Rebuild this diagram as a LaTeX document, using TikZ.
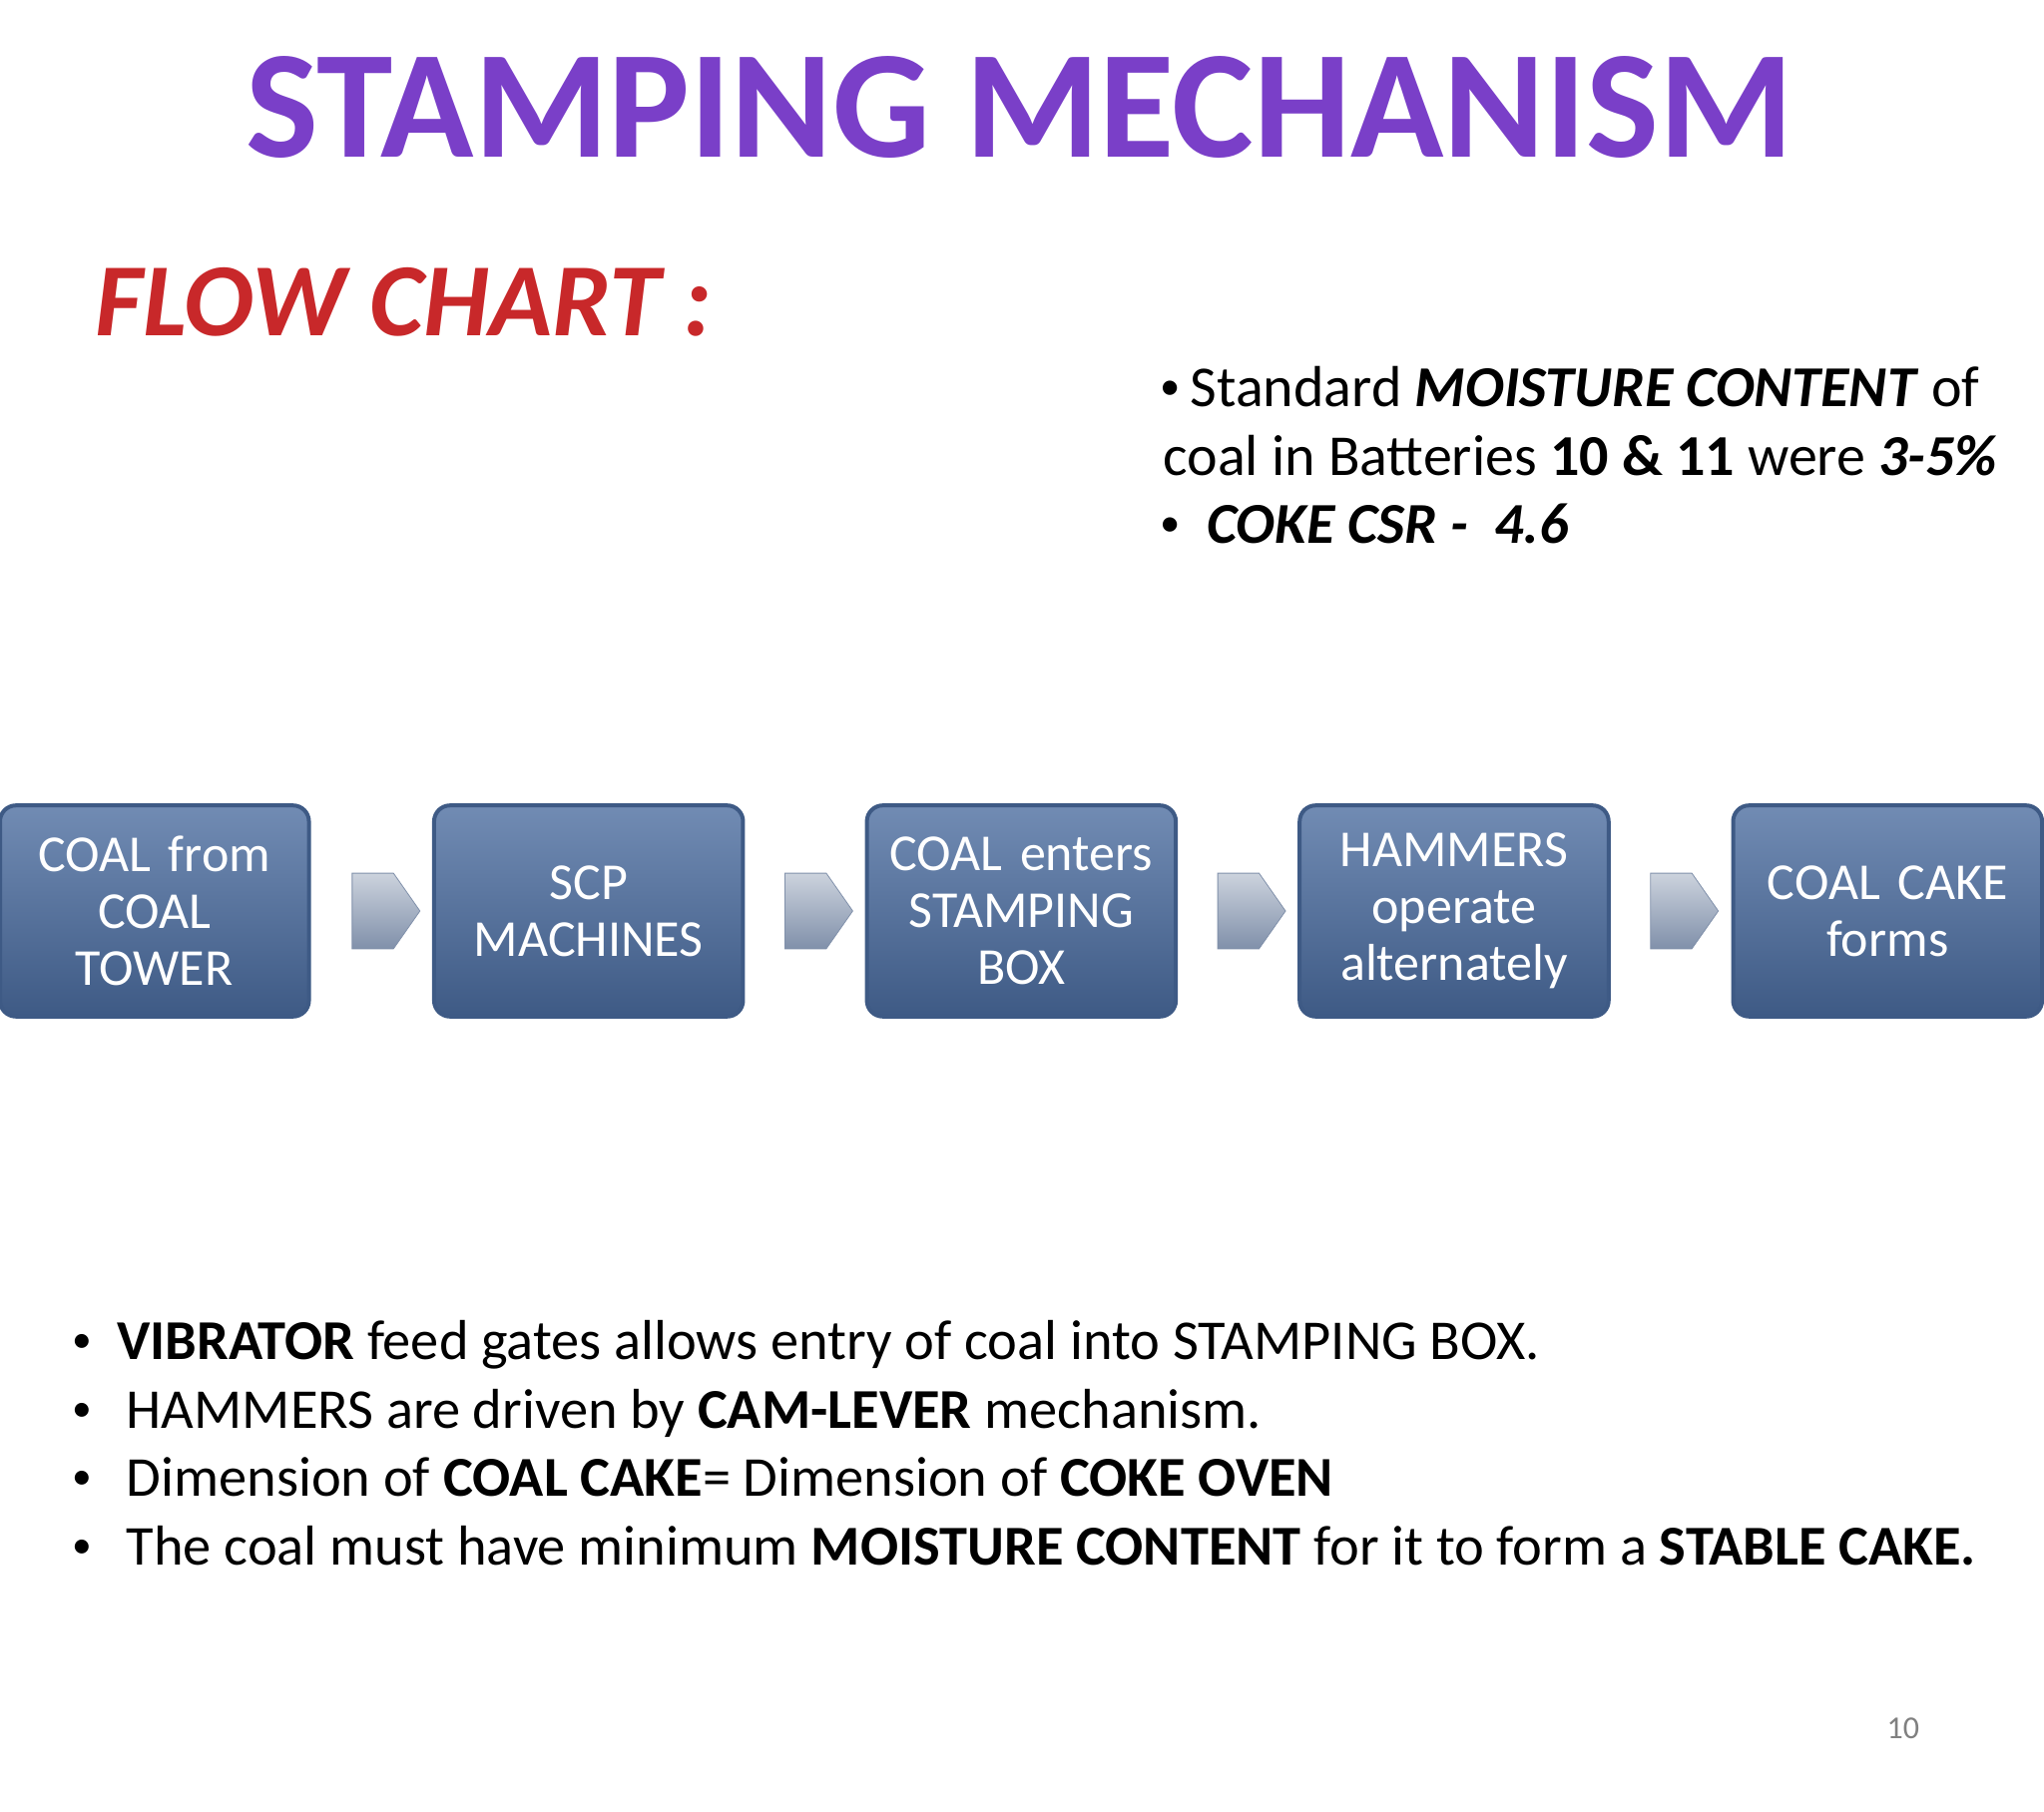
\documentclass[tikz,border=0pt]{standalone}
\usepackage{fontspec}
\setmainfont{Carlito}
\usetikzlibrary{shapes.arrows}
\definecolor{boxc}{HTML}{5877A6}
\definecolor{boxd}{HTML}{3E5A85}
\definecolor{ttl}{HTML}{7A3FC8}
\definecolor{fc}{HTML}{C8282A}
\definecolor{arw}{HTML}{8090AA}
\newcommand{\smb}{\raisebox{0.12em}{\scalebox{0.7}{\textbullet}}}
\tikzset{
 flowbox/.style={draw=boxd,line width=2pt,rounded corners=8pt,top color=boxc!85!white,bottom color=boxd,
   minimum width=237*0.653pt,minimum height=162*0.653pt,text width=230*0.653pt,align=center,
   text=white,font=\fontsize{26}{28.5}\selectfont,inner sep=0pt},
 garrow/.style={single arrow,draw=arw,top color=arw!40,bottom color=arw,
   minimum width=58*0.653pt,single arrow head extend=0pt,minimum height=52*0.653pt,inner sep=6pt,single arrow tip angle=110},
 txt/.style={anchor=base west,inner sep=0pt,font=\fontsize{29}{36}\selectfont},
 btxt/.style={anchor=base west,inner sep=0pt,font=\fontsize{28.2}{36}\selectfont}
}
\begin{document}
\begin{tikzpicture}[x=0.653pt,y=-0.653pt]
\useasboundingbox (0,0) rectangle (1568,1390);
\node[font=\fontsize{77}{80}\bfseries\selectfont,text=ttl] (title) at (782,82) {STAMPING MECHANISM};
\node[anchor=west,font=\fontsize{52}{60}\bfseries\itshape\selectfont,text=fc] (fc) at (68,232) {FLOW CHART :};
\node[txt] (r1) at (890,312) {\smb\,Standard \textbf{\textit{MOISTURE CONTENT}} of};
\node[txt] (r2) at (892,365) {coal in Batteries \textbf{10 \& 11} were \textbf{\textit{3-5\%}}};
\node[txt] (r3) at (890,417) {\smb\ \ \textbf{\textit{COKE CSR -\ \ 4.6}}};
\node[flowbox] (b1) at (118.5,699) {COAL from\\COAL\\TOWER};
\node[flowbox] (b2) at (451.5,699) {SCP\\MACHINES};
\node[flowbox] (b3) at (783.5,699) {COAL enters\\STAMPING\\BOX};
\node[flowbox] (b4) at (1115.5,699) {HAMMERS\\operate\\alternately};
\node[flowbox] (b5) at (1448,699) {COAL CAKE\\forms};
\node[garrow] (a1) at (286,699) {};
\node[garrow] (a2) at (618,699) {};
\node[garrow] (a3) at (950,699) {};
\node[garrow] (a4) at (1282,699) {};
\node[btxt] (l1) at (55,1043) {\smb\ \ \textbf{VIBRATOR} feed gates allows entry of coal into STAMPING BOX.};
\node[btxt] (l2) at (55,1096) {\smb\ \ \,HAMMERS are driven by \textbf{CAM-LEVER} mechanism.};
\node[btxt] (l3) at (55,1148) {\smb\ \ \,Dimension of \textbf{COAL CAKE}= Dimension of \textbf{COKE OVEN}};
\node[btxt] (l4) at (55,1201) {\smb\ \ \,The coal must have minimum \textbf{MOISTURE CONTENT} for it to form a \textbf{STABLE CAKE.}};
\node[font=\fontsize{16}{18}\selectfont,text=gray] (pg) at (1460,1326) {10};
\end{tikzpicture}
\end{document}
